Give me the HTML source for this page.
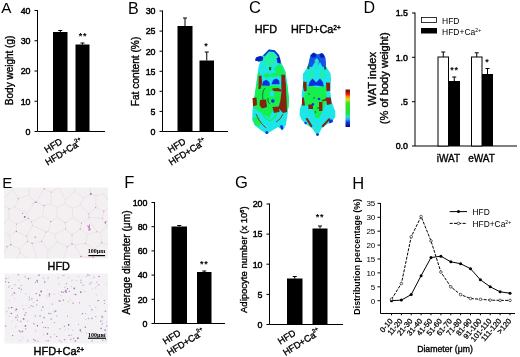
<!DOCTYPE html><html><head><meta charset="utf-8"><title>Figure</title><style>html,body{margin:0;padding:0;background:#fff}svg{display:block}text{font-family:"Liberation Sans",sans-serif;fill:#000}.t{font-size:8.9px;stroke:#000;stroke-width:.45px}.l{font-size:9.3px;stroke:#000;stroke-width:.35px}.p{font-size:15.5px}.ax{stroke:#000;stroke-width:1;fill:none}</style></head><body>
<svg width="520" height="357" viewBox="0 0 520 357">
<defs><filter id="b1" x="-10%" y="-10%" width="120%" height="120%"><feGaussianBlur stdDeviation="0.45"/></filter><filter id="b2" x="-10%" y="-10%" width="120%" height="120%"><feGaussianBlur stdDeviation="0.7"/></filter><linearGradient id="cb" x1="0" y1="0" x2="0" y2="1"><stop offset="0" stop-color="#6a1414"/><stop offset=".07" stop-color="#a01010"/><stop offset=".13" stop-color="#f02010"/><stop offset=".2" stop-color="#f0a010"/><stop offset=".27" stop-color="#d8e020"/><stop offset=".36" stop-color="#40e020"/><stop offset=".62" stop-color="#20e040"/><stop offset=".73" stop-color="#20e0c8"/><stop offset=".8" stop-color="#20a8e8"/><stop offset=".87" stop-color="#1038e0"/><stop offset="1" stop-color="#080888"/></linearGradient></defs>
<rect width="520" height="357" fill="#fff"/>
<g filter="url(#b1)">
<path class="ax" d="M37.5 10.0V131.5H105"/>
<path class="ax" d="M34.5 10.5H37.5"/>
<text class="t" x="30.5" y="13.8" text-anchor="end">40</text>
<path class="ax" d="M34.5 40.75H37.5"/>
<text class="t" x="30.5" y="44.05" text-anchor="end">30</text>
<path class="ax" d="M34.5 71H37.5"/>
<text class="t" x="30.5" y="74.3" text-anchor="end">20</text>
<path class="ax" d="M34.5 101.25H37.5"/>
<text class="t" x="30.5" y="104.55" text-anchor="end">10</text>
<path class="ax" d="M34.5 131.5H37.5"/>
<text class="t" x="30.5" y="134.8" text-anchor="end">0</text>
<path class="ax" d="M60.25 32V30.5M58.25 30.5H62.25" stroke-width=".8"/>
<rect x="53" y="32" width="14.5" height="99.5" fill="#000" stroke="#000" stroke-width="0"/>
<path class="ax" d="M82.5 44.5V43.0M80.5 43.0H84.5" stroke-width=".8"/>
<rect x="75.5" y="44.5" width="14.0" height="87.0" fill="#000" stroke="#000" stroke-width="0"/>
<text class="l" transform="translate(12.8 70.4) rotate(-90)" text-anchor="middle" style="font-size:10px">Body weight (g)</text>
<text class="l" transform="translate(63 143.2) rotate(-32)" text-anchor="end">HFD</text>
<text class="l" transform="translate(83.5 143.5) rotate(-32)" text-anchor="end">HFD+Ca<tspan dy="-4.5" dx="-.5" style="font-size:5.5px">2+</tspan></text>
<text class="p" x="1.2" y="13.3" style="font-size:15.3px">A</text>
<text x="83" y="38.5" text-anchor="middle" style="font-size:9px;font-weight:bold;letter-spacing:.8px">**</text>
<path class="ax" d="M162.5 10.5V131.5H228"/>
<path class="ax" d="M159.5 11H162.5"/>
<text class="t" x="155.5" y="14.3" text-anchor="end">30</text>
<path class="ax" d="M159.5 31.1H162.5"/>
<text class="t" x="155.5" y="34.4" text-anchor="end">25</text>
<path class="ax" d="M159.5 51.2H162.5"/>
<text class="t" x="155.5" y="54.5" text-anchor="end">20</text>
<path class="ax" d="M159.5 71.3H162.5"/>
<text class="t" x="155.5" y="74.6" text-anchor="end">15</text>
<path class="ax" d="M159.5 91.3H162.5"/>
<text class="t" x="155.5" y="94.6" text-anchor="end">10</text>
<path class="ax" d="M159.5 111.4H162.5"/>
<text class="t" x="155.5" y="114.7" text-anchor="end">5</text>
<path class="ax" d="M159.5 131.5H162.5"/>
<text class="t" x="155.5" y="134.8" text-anchor="end">0</text>
<path class="ax" d="M185.0 26V18M183.0 18H187.0" stroke-width=".8"/>
<rect x="177.5" y="26" width="15.0" height="105.5" fill="#000" stroke="#000" stroke-width="0"/>
<path class="ax" d="M206.75 60.5V52.0M204.75 52.0H208.75" stroke-width=".8"/>
<rect x="199.5" y="60.5" width="14.5" height="71.0" fill="#000" stroke="#000" stroke-width="0"/>
<text class="l" transform="translate(139 71.5) rotate(-90)" text-anchor="middle" style="font-size:10.2px">Fat content (%)</text>
<text class="l" transform="translate(186.5 143.2) rotate(-32)" text-anchor="end">HFD</text>
<text class="l" transform="translate(207 143.5) rotate(-32)" text-anchor="end">HFD+Ca<tspan dy="-4.5" dx="-.5" style="font-size:5.5px">2+</tspan></text>
<text class="p" x="128" y="13.5" style="font-size:16px">B</text>
<text x="206.5" y="49" text-anchor="middle" style="font-size:9px;font-weight:bold;letter-spacing:.8px">*</text>
<path class="ax" d="M154.5 202.0V323.5H225"/>
<path class="ax" d="M151.5 202.5H154.5"/>
<text class="t" x="147.5" y="205.8" text-anchor="end">100</text>
<path class="ax" d="M151.5 226.7H154.5"/>
<text class="t" x="147.5" y="230.0" text-anchor="end">80</text>
<path class="ax" d="M151.5 250.9H154.5"/>
<text class="t" x="147.5" y="254.20000000000002" text-anchor="end">60</text>
<path class="ax" d="M151.5 275.1H154.5"/>
<text class="t" x="147.5" y="278.40000000000003" text-anchor="end">40</text>
<path class="ax" d="M151.5 299.3H154.5"/>
<text class="t" x="147.5" y="302.6" text-anchor="end">20</text>
<path class="ax" d="M151.5 323.5H154.5"/>
<text class="t" x="147.5" y="326.8" text-anchor="end">0</text>
<path class="ax" d="M179.25 226.5V225.5M177.25 225.5H181.25" stroke-width=".8"/>
<rect x="171.5" y="226.5" width="15.5" height="97.0" fill="#000" stroke="#000" stroke-width="0"/>
<path class="ax" d="M204.25 272V271M202.25 271H206.25" stroke-width=".8"/>
<rect x="197" y="272" width="14.5" height="51.5" fill="#000" stroke="#000" stroke-width="0"/>
<text class="l" transform="translate(129.8 262.5) rotate(-90)" text-anchor="middle" style="font-size:10.2px">Average diameter (μm)</text>
<text class="l" transform="translate(181.5 334.7) rotate(-32)" text-anchor="end">HFD</text>
<text class="l" transform="translate(205.3 333.6) rotate(-32)" text-anchor="end">HFD+Ca<tspan dy="-4.5" dx="-.5" style="font-size:5.5px">2+</tspan></text>
<text class="p" x="124.3" y="188.3" style="font-size:16.5px">F</text>
<text x="204.3" y="266.6" text-anchor="middle" style="font-size:9px;font-weight:bold;letter-spacing:.8px">**</text>
<path class="ax" d="M269.5 203.5V324.5H343"/>
<path class="ax" d="M266.5 204H269.5"/>
<text class="t" x="262.5" y="207.3" text-anchor="end">20</text>
<path class="ax" d="M266.5 234.1H269.5"/>
<text class="t" x="262.5" y="237.4" text-anchor="end">15</text>
<path class="ax" d="M266.5 264.2H269.5"/>
<text class="t" x="262.5" y="267.5" text-anchor="end">10</text>
<path class="ax" d="M266.5 294.4H269.5"/>
<text class="t" x="262.5" y="297.7" text-anchor="end">5</text>
<path class="ax" d="M266.5 324.5H269.5"/>
<text class="t" x="262.5" y="327.8" text-anchor="end">0</text>
<path class="ax" d="M294.75 278.5V276.5M292.75 276.5H296.75" stroke-width=".8"/>
<rect x="287" y="278.5" width="15.5" height="46.0" fill="#000" stroke="#000" stroke-width="0"/>
<path class="ax" d="M320.0 228.5V226.0M318.0 226.0H322.0" stroke-width=".8"/>
<rect x="312.5" y="228.5" width="15.0" height="96.0" fill="#000" stroke="#000" stroke-width="0"/>
<text class="l" transform="translate(246.5 259.7) rotate(-90)" text-anchor="middle" style="font-size:9.5px">Adipocyte number (x 10<tspan dy="-3" style="font-size:5.5px">6</tspan><tspan dy="3">)</tspan></text>
<text class="l" transform="translate(296.5 334.7) rotate(-32)" text-anchor="end">HFD</text>
<text class="l" transform="translate(321.2 333.7) rotate(-32)" text-anchor="end">HFD+Ca<tspan dy="-4.5" dx="-.5" style="font-size:5.5px">2+</tspan></text>
<text class="p" x="235" y="188.3" style="font-size:16.5px">G</text>
<text x="320" y="219.5" text-anchor="middle" style="font-size:9px;font-weight:bold;letter-spacing:.8px">**</text>
<path class="ax" d="M415 12.5V146H517"/>
<path class="ax" d="M412 13H415"/>
<text class="t" x="408" y="16.3" text-anchor="end">1.5</text>
<path class="ax" d="M412 57.3H415"/>
<text class="t" x="408" y="60.599999999999994" text-anchor="end">1.0</text>
<path class="ax" d="M412 101.7H415"/>
<text class="t" x="408" y="105.0" text-anchor="end">.5</text>
<path class="ax" d="M412 146H415"/>
<text class="t" x="408" y="149.3" text-anchor="end">0.0</text>
<path class="ax" d="M443.25 57V52M441.25 52H445.25" stroke-width=".8"/>
<rect x="438" y="57" width="10.5" height="89" fill="#fff" stroke="#000" stroke-width="1"/>
<path class="ax" d="M454.25 81V77M452.25 77H456.25" stroke-width=".8"/>
<rect x="448.5" y="81" width="11.5" height="65" fill="#000" stroke="#000" stroke-width="0"/>
<path class="ax" d="M476.75 57V52.8M474.75 52.8H478.75" stroke-width=".8"/>
<rect x="471.5" y="57" width="10.5" height="89" fill="#fff" stroke="#000" stroke-width="1"/>
<path class="ax" d="M487.5 74V68.5M485.5 68.5H489.5" stroke-width=".8"/>
<rect x="482" y="74" width="11" height="72" fill="#000" stroke="#000" stroke-width="0"/>
<text class="p" x="363.5" y="13.3" style="font-size:16px">D</text>
<text x="454.6" y="73" text-anchor="middle" style="font-size:9px;font-weight:bold;letter-spacing:.8px">**</text>
<text x="487.5" y="64.5" text-anchor="middle" style="font-size:9px;font-weight:bold;letter-spacing:.8px">*</text>
<text class="l" transform="translate(375.5 78.8) rotate(-90)" text-anchor="middle" style="font-size:11.3px">WAT index</text>
<text class="l" transform="translate(387.7 78.3) rotate(-90)" text-anchor="middle" style="font-size:11.1px">(% of body weight)</text>
<text class="l" x="448.5" y="161.5" text-anchor="middle" style="font-size:10px">iWAT</text>
<text class="l" x="481.5" y="161.5" text-anchor="middle" style="font-size:10px">eWAT</text>
<rect x="421.5" y="17.5" width="15" height="5" fill="#fff" stroke="#000" stroke-width=".8"/>
<rect x="421" y="28" width="16" height="5.5" fill="#000"/>
<text x="442" y="24" style="font-size:8.5px">HFD</text>
<text x="442" y="34.5" style="font-size:8.5px">HFD+Ca<tspan dy="-2.5" style="font-size:5.2px">2+</tspan></text>
<text class="p" x="249" y="13.4" style="font-size:16.5px">C</text>
<text class="l" x="254.8" y="33" style="font-size:10.8px;stroke-width:.4px">HFD</text>
<text class="l" x="291" y="33" style="font-size:10.8px;stroke-width:.4px">HFD+Ca<tspan dy="-3.2" style="font-size:6.5px">2+</tspan></text>
<g filter="url(#b2)">
<!-- mouse 1 HFD -->
<path d="M268.8 49.5L274.7 50.2L279 55L280.5 61L283 66L285.6 72L287.5 85L289 100L288.5 105L287.5 115L285.8 125L282.5 130.5L278 127L272.4 130.5L266.8 133.8L261.2 130.5L254.5 125L252.2 120L252.5 110L254 100L256.2 85L257.9 72L258.7 66L260 62L255 60.5L256 57.5L260 56L263 55.5Z" fill="#1ce6e6"/>
<path d="M264.6 55L268.8 51.5L274 52.5L276.5 57L274 63L269 67L265 66.5L263.5 61Z" fill="#22f0a4"/>
<path d="M274 68.5L279 64L283 67L285.6 73L286 78L280 77L276 73Z" fill="#18ee5c"/>
<path d="M257.9 73L260 72L259.5 86L257 96L254 100L256.2 85Z" fill="#18ee5c"/>
<path d="M285.6 80L287.5 86L289 100L288.5 108L286 110L286.5 95Z" fill="#18ee5c"/>
<path d="M262 75L268 73L272 76L266 78ZM270 74L277 72.5L279 76L273 77Z" fill="#18ee5c"/>
<path d="M258.7 86L263 84.6L270 86L276 85L280.6 87L281 100L279 108L272 112L266 116L260 112L254 108L253 104L255 96L257.5 88Z" fill="#14f050"/>
<path d="M258.7 76L261.5 75.5L262 83L260.5 89L258.5 89Z" fill="#86200c"/>
<path d="M281.4 74.5L285 75L285.8 84L286.5 98L287 112L283 113L278.5 108L280.5 100L281.5 91L281.2 84Z" fill="#86200c"/>
<path d="M272 88.5L278 88L282 90L281 91.5L273.5 91Z" fill="#86200c"/>
<path d="M252.5 98L256.5 97.5L257 105L253 106.5Z" fill="#86200c"/>
<path d="M260 100L266 99.5L267 107L262 108.5L259.5 105Z" fill="#86200c"/>
<path d="M272.4 107L279 106.5L279.5 112L274 113Z" fill="#86200c"/>
<path d="M269.6 91.3L273.8 91.3L274 96.4L270 96.4Z" fill="#1ce6e6"/>
<path d="M261.8 85.6L263.2 81.3L266.5 79.8L269.4 82.2L269.9 85.8Z" fill="#0c2ee0"/>
<path d="M271.4 84.2L273.3 79.8L276.5 78.4L279.2 80.8L279.6 84.3Z" fill="#0c2ee0"/>
<path d="M263 55.5L268.8 49.5L274.7 50.2L279 55L280.5 61L279.2 61.5L277.5 56L274 52L269 51.5L264.5 56.5Z" fill="#1034d8"/>
<path d="M255 60.5L256 57.5L260 56L263.2 57L262.8 60.5L259 61.6Z" fill="#0a1cb4"/>
<path d="M276.6 58L280 57.6L280.8 63.5L277.5 63Z" fill="#0a1cb4"/>
<path d="M269 67L271.3 67L271 70.5L269 70Z" fill="#0a5a20"/>
<path d="M263 100Q261.5 92 265 88M268 98Q267 103 270 104" stroke="#0a5a20" stroke-width=".8" fill="none"/>
<circle cx="272.8" cy="101" r="1.8" fill="#0c2ee0"/>
<path d="M279.7 126L282 125L283.6 128L282 130.3Z" fill="#1034d8"/>
<circle cx="266.8" cy="132.6" r="1.5" fill="#1034d8"/>
<path d="M253 118L258 117L261 122L259 127L255 125Z" fill="#14f050"/>
<path d="M265 110L270 108L272 113L269 118L266 116Z" fill="#14f050"/>
<path d="M256 114L259 120L262 124L266 128M276 122L280 119L283 114" stroke="#86200c" stroke-width="1" fill="none" opacity=".8"/>
<path d="M262 112L265 118L270 121L275 117L278 112" stroke="#14f050" stroke-width="1.2" fill="none"/>
<!-- mouse 2 HFD+Ca -->
<path d="M313.5 52.6L317.5 54.5L322 53L325.2 57L325.8 62L326 66.5L330.6 73.5L331 80L330.2 91L331.4 100L333 105.6L335.3 111.2L335.3 116.8L332 121.8L327.5 124L321.9 128L319 133.6L317.4 136.6L315.7 133.6L311.8 128L306.2 124.6L301.7 120L299.5 114.6L300 109L302.8 100L301.6 96L303 84L302.9 74L307.9 66.5L309.4 60L310.5 55Z" fill="#1ce6e6"/>
<path d="M313.5 52.6L317.5 54.5L322 53L325.2 57L325.8 62L326 66.5L322.5 67L320 62L317.5 66L315 62L312 67L307.9 66.5L309.4 60L310.5 55Z" fill="#1452e8"/>
<path d="M311 55L313.5 53L316.3 54.5L315.5 57.2L312 57.5ZM319.7 54.5L322 53.3L324.3 55L324 57.7L320.5 57.5Z" fill="#0a1cb4"/>
<path d="M314.5 60L317 58L319 61L318 67L316 69Z" fill="#22e0d0"/>
<path d="M307.5 66L309.2 65.5L309.5 69L307.5 69ZM324 66.5L326 66.5L326.2 69.5L324.2 69.5Z" fill="#0a5a20"/>
<path d="M309 72L313 70L314 78L310 79ZM319 70L324 71L325 78L321 78.5Z" fill="#22f0a4"/>
<path d="M306.7 87L312 86L318 87.5L324 86L326 87L326.5 98L325 105L322 112L319 118L316 118L313 110L308 106L304 104L304.5 96L306 90Z" fill="#14f050"/>
<path d="M308.3 86.3L309.5 82L312.5 78.4L316.3 82.4L320 78.4L322.8 82L323.9 86.6L316 85.6Z" fill="#0c2ee0"/>
<path d="M303.3 81.6L306.5 82L306.7 90.8L304 91.5L303 86Z" fill="#86200c"/>
<path d="M326 82.4L330 82.8L330.2 90.8L326.5 91.2Z" fill="#86200c"/>
<path d="M302 97.5L303.8 97.5L305 105.6L302 105.6Z" fill="#86200c"/>
<path d="M325.6 97.5L330.8 97.5L331.5 104L327 105Z" fill="#86200c"/>
<path d="M308.4 104.5L313 104.5L313 109L308.4 109Z" fill="#86200c"/>
<path d="M319 102L322.4 102L322.4 111L319 111Z" fill="#86200c"/>
<path d="M322 100L327 98.5L327.5 100L322.5 101.5Z" fill="#86200c"/>
<path d="M305.5 118.5L307.5 118L312.5 126L311 127.5ZM329 118L330.5 119L323 127.5L321.5 126Z" fill="#86200c"/>
<circle cx="319" cy="99" r="1.3" fill="#0c2ee0"/>
<circle cx="312.9" cy="104.2" r="1.2" fill="#0c2ee0"/>
<path d="M328.6 119.8L332.5 119.6L333 122L329.5 123.5Z" fill="#1034d8"/>
<circle cx="305.6" cy="123" r="1.2" fill="#1034d8"/>
<circle cx="317.5" cy="134.6" r="1.4" fill="#1034d8"/>
<circle cx="315.5" cy="112" r=".8" fill="#0a5a20"/><circle cx="318" cy="108" r=".8" fill="#0a5a20"/><circle cx="309" cy="94" r=".8" fill="#0a5a20"/><circle cx="314" cy="98" r=".8" fill="#0a5a20"/>
</g>

<rect x="345.5" y="89.5" width="4.5" height="37.5" fill="url(#cb)"/>
<text class="l" x="58.7" y="270.3" text-anchor="middle" style="font-size:10.8px;stroke-width:.4px">HFD</text>
<text class="l" x="33.5" y="354.8" style="font-size:11px;stroke-width:.4px">HFD+Ca<tspan dy="-3.2" style="font-size:6.5px">2+</tspan></text>
<clipPath id="mc1"><rect x="4" y="187.5" width="104" height="71.0"/></clipPath>
<g filter="url(#b2)"><rect x="4" y="187.5" width="104" height="71.0" fill="#f3f0f2"/><g clip-path="url(#mc1)">
<path d="M91.2 194.3L95.9 195.7M91.2 194.3L87.7 180.1M95.9 195.7L102.5 193.9M104.7 195.3L102.5 193.9M109.0 225.7L117.0 220.6M109.0 225.7L116.7 236.4M46.1 232.1L41.6 241.4M46.1 232.1L48.5 231.2M48.5 231.2L54.1 234.1M54.1 234.1L57.0 242.2M57.0 242.2L47.9 250.3M41.6 241.4L47.9 250.3M32.5 225.4L46.1 232.1M32.5 225.4L26.7 236.2M41.6 241.4L32.1 243.2M32.1 243.2L27.6 241.4M26.7 236.2L27.6 241.4M32.5 225.4L31.6 221.7M28.3 218.4L31.6 221.7M28.3 218.4L16.5 224.1M16.5 224.1L16.3 231.4M26.7 236.2L16.3 231.4M48.5 231.2L50.8 221.6M31.6 221.7L42.7 216.1M42.7 216.1L50.8 221.6M54.1 234.1L65.6 229.1M65.2 222.7L65.6 229.1M65.2 222.7L56.8 217.3M56.8 217.3L50.8 221.6M111.4 206.0L104.7 195.3M111.4 206.0L113.0 206.6M110.6 245.9L112.6 257.0M110.6 245.9L115.5 243.2M102.4 262.3L112.6 257.0M57.0 242.2L67.5 246.8M47.9 250.3L47.6 258.2M57.6 260.4L47.6 258.2M57.6 260.4L63.6 258.4M67.5 246.8L63.6 258.4M65.2 222.7L72.4 217.5M65.6 229.1L72.0 235.0M72.4 217.5L81.6 223.1M81.6 223.1L80.2 229.1M72.0 235.0L80.2 229.1M67.5 246.8L72.0 243.9M72.0 235.0L72.0 243.9M2.7 256.8L13.0 263.2M2.7 256.8L6.9 246.8M13.0 263.2L20.0 252.7M6.9 246.8L10.8 244.7M10.8 244.7L19.6 248.9M20.0 252.7L19.6 248.9M1.6 230.6L9.5 235.4M9.5 235.4L10.8 244.7M27.6 241.4L19.6 248.9M16.3 231.4L9.5 235.4M13.0 263.2L13.2 264.5M56.8 217.3L57.2 207.2M72.5 208.3L72.4 217.5M72.5 208.3L64.5 204.0M64.5 204.0L57.2 207.2M88.7 214.0L88.9 217.3M88.7 214.0L95.7 207.6M88.9 217.3L102.4 218.4M95.7 207.6L103.8 211.0M103.8 211.0L102.4 218.4M72.5 208.3L80.5 205.2M80.5 205.2L88.7 214.0M81.6 223.1L88.2 218.9M88.2 218.9L88.9 217.3M91.2 194.3L83.1 197.8M83.1 197.8L80.5 205.2M95.9 195.7L95.7 207.6M111.4 206.0L103.8 211.0M109.0 225.7L107.2 226.0M107.2 226.0L102.4 218.4M31.5 260.8L37.9 260.9M37.9 260.9L41.1 262.4M20.0 252.7L31.5 260.8M32.1 243.2L37.9 260.9M47.6 258.2L41.1 262.4M93.0 257.3L80.9 256.5M63.6 258.4L72.9 265.7M72.0 243.9L74.6 244.9M74.6 244.9L80.9 256.5M102.4 262.3L93.1 257.2M93.1 257.2L93.0 257.3M87.1 234.5L85.5 243.4M87.1 234.5L97.0 231.7M101.8 242.7L94.4 249.2M101.8 242.7L100.3 232.9M94.4 249.2L85.5 243.4M100.3 232.9L97.0 231.7M74.6 244.9L85.5 243.4M80.2 229.1L87.1 234.5M88.2 218.9L97.0 231.7M93.1 257.2L94.4 249.2M110.6 245.9L101.8 242.7M107.2 226.0L100.3 232.9M57.6 260.4L58.0 273.0M12.8 184.5L12.7 189.5M12.7 189.5L1.7 200.0M1.7 200.0L-4.5 193.9M42.7 216.1L44.0 205.6M57.2 207.2L51.2 204.1M44.0 205.6L51.2 204.1M83.1 197.8L75.2 191.2M64.5 204.0L65.2 199.8M75.2 191.2L65.2 199.8M3.7 206.2L-2.3 209.3M3.7 206.2L9.0 209.1M9.0 209.1L8.5 218.6M8.5 218.6L4.5 222.8M1.7 200.0L3.7 206.2M14.8 207.2L18.3 198.7M14.8 207.2L9.0 209.1M12.7 189.5L18.3 198.7M28.3 218.4L27.0 213.3M16.5 224.1L8.5 218.6M27.0 213.3L14.8 207.2M1.6 230.6L4.5 222.8M27.0 213.3L35.1 202.2M18.3 198.7L28.8 195.0M35.1 202.2L28.8 195.0M44.0 205.6L36.3 202.2M35.1 202.2L36.3 202.2M28.8 195.0L29.1 187.3M51.2 204.1L51.2 192.1M36.3 202.2L44.2 188.8M51.2 192.1L44.2 188.8M65.2 199.8L59.2 187.4M51.2 192.1L59.2 187.4M75.2 191.2L74.2 186.5M74.2 186.5L81.6 177.5M29.1 187.3L35.8 183.1M44.2 188.8L42.8 186.2M35.8 183.1L42.8 186.2M35.8 183.1L36.2 169.6M60.0 185.6L49.6 178.4M60.0 185.6L62.9 183.3M62.9 183.3L63.8 171.1M59.2 187.4L60.0 185.6M42.8 186.2L49.6 178.4M74.2 186.5L62.9 183.3" stroke="#e4b0d4" stroke-width=".55" fill="none" opacity=".42"/>
<circle cx="6.9" cy="246.8" r="0.71" fill="#9248a8" opacity="0.51"/>
<circle cx="9.0" cy="209.1" r="0.51" fill="#9248a8" opacity="0.54"/>
<circle cx="10.8" cy="244.7" r="0.69" fill="#9248a8" opacity="0.71"/>
<circle cx="16.3" cy="231.4" r="0.64" fill="#9248a8" opacity="0.69"/>
<circle cx="16.5" cy="224.1" r="0.53" fill="#9248a8" opacity="0.42"/>
<circle cx="18.3" cy="198.7" r="0.58" fill="#9248a8" opacity="0.51"/>
<circle cx="20.0" cy="252.7" r="0.47" fill="#9248a8" opacity="0.36"/>
<circle cx="26.7" cy="236.2" r="0.47" fill="#9248a8" opacity="0.74"/>
<circle cx="27.6" cy="241.4" r="0.60" fill="#9248a8" opacity="0.44"/>
<circle cx="28.3" cy="218.4" r="0.56" fill="#9248a8" opacity="0.59"/>
<circle cx="31.6" cy="221.7" r="0.51" fill="#9248a8" opacity="0.45"/>
<circle cx="32.1" cy="243.2" r="0.62" fill="#9248a8" opacity="0.62"/>
<circle cx="32.5" cy="225.4" r="0.47" fill="#9248a8" opacity="0.38"/>
<circle cx="35.1" cy="202.2" r="0.63" fill="#9248a8" opacity="0.65"/>
<circle cx="36.3" cy="202.2" r="0.69" fill="#9248a8" opacity="0.58"/>
<circle cx="41.6" cy="241.4" r="0.56" fill="#9248a8" opacity="0.52"/>
<circle cx="44.0" cy="205.6" r="0.66" fill="#9248a8" opacity="0.51"/>
<circle cx="44.2" cy="188.8" r="0.61" fill="#9248a8" opacity="0.61"/>
<circle cx="46.1" cy="232.1" r="0.58" fill="#9248a8" opacity="0.49"/>
<circle cx="50.8" cy="221.6" r="0.72" fill="#9248a8" opacity="0.66"/>
<circle cx="51.2" cy="192.1" r="0.59" fill="#9248a8" opacity="0.36"/>
<circle cx="65.2" cy="222.7" r="0.63" fill="#9248a8" opacity="0.30"/>
<circle cx="65.6" cy="229.1" r="0.68" fill="#9248a8" opacity="0.32"/>
<circle cx="67.5" cy="246.8" r="0.48" fill="#9248a8" opacity="0.70"/>
<circle cx="72.0" cy="235.0" r="0.46" fill="#9248a8" opacity="0.68"/>
<circle cx="72.0" cy="243.9" r="0.70" fill="#9248a8" opacity="0.60"/>
<circle cx="80.2" cy="229.1" r="0.68" fill="#9248a8" opacity="0.53"/>
<circle cx="80.9" cy="256.5" r="0.67" fill="#9248a8" opacity="0.72"/>
<circle cx="81.6" cy="223.1" r="0.55" fill="#9248a8" opacity="0.55"/>
<circle cx="85.5" cy="243.4" r="0.50" fill="#9248a8" opacity="0.41"/>
<circle cx="88.7" cy="214.0" r="0.56" fill="#9248a8" opacity="0.48"/>
<circle cx="88.9" cy="217.3" r="0.58" fill="#9248a8" opacity="0.34"/>
<circle cx="91.2" cy="194.3" r="0.74" fill="#9248a8" opacity="0.49"/>
<circle cx="93.1" cy="257.2" r="0.66" fill="#9248a8" opacity="0.64"/>
<circle cx="95.7" cy="207.6" r="0.60" fill="#9248a8" opacity="0.59"/>
<circle cx="97.0" cy="231.7" r="0.48" fill="#9248a8" opacity="0.64"/>
<circle cx="101.8" cy="242.7" r="0.58" fill="#9248a8" opacity="0.62"/>
<circle cx="102.4" cy="218.4" r="0.53" fill="#9248a8" opacity="0.39"/>
<circle cx="103.8" cy="211.0" r="0.52" fill="#9248a8" opacity="0.61"/>
<circle cx="24.7" cy="216.9" r="0.90" fill="#9248a8" opacity="0.90"/>
<circle cx="90.6" cy="193.8" r="0.80" fill="#9248a8" opacity="0.90"/>
<circle cx="105.3" cy="222.7" r="0.80" fill="#9248a8" opacity="0.90"/>
<circle cx="35.2" cy="237.2" r="0.61" fill="#9248a8" opacity="0.76"/>
<circle cx="32.3" cy="203.5" r="0.41" fill="#9248a8" opacity="0.54"/>
<circle cx="22.6" cy="213.4" r="0.56" fill="#9248a8" opacity="0.71"/>
<circle cx="106.1" cy="221.6" r="0.70" fill="#6a3c9c" opacity="0.53"/>
</g></g>
<path d="M87.5 225.5L90.5 230M89.5 224.5L89 231" stroke="#c040b0" stroke-width="1.1" opacity=".7" filter="url(#b2)"/>
<clipPath id="mc2"><rect x="4.5" y="273.5" width="103.5" height="70.0"/></clipPath>
<g filter="url(#b2)"><rect x="4.5" y="273.5" width="103.5" height="70.0" fill="#f3f1f3"/><g clip-path="url(#mc2)">
<circle cx="68.7" cy="324.9" r="0.80" fill="#6a3c9c" opacity="0.82"/>
<circle cx="99.1" cy="276.5" r="0.63" fill="#9044a8" opacity="0.82"/>
<circle cx="96.9" cy="282.2" r="0.63" fill="#9044a8" opacity="0.40"/>
<circle cx="63.8" cy="275.4" r="0.51" fill="#6a3c9c" opacity="0.42"/>
<circle cx="83.2" cy="285.4" r="0.80" fill="#9044a8" opacity="0.33"/>
<circle cx="18.4" cy="274.6" r="0.84" fill="#9044a8" opacity="0.38"/>
<circle cx="105.2" cy="333.8" r="0.54" fill="#9044a8" opacity="0.83"/>
<circle cx="74.3" cy="288.4" r="0.87" fill="#6a3c9c" opacity="0.66"/>
<circle cx="96.2" cy="294.8" r="0.58" fill="#9044a8" opacity="0.35"/>
<circle cx="12.1" cy="295.0" r="0.70" fill="#6a3c9c" opacity="0.25"/>
<circle cx="39.8" cy="295.6" r="0.81" fill="#9044a8" opacity="0.54"/>
<circle cx="54.3" cy="322.4" r="0.43" fill="#9044a8" opacity="0.84"/>
<circle cx="81.6" cy="332.0" r="0.41" fill="#9044a8" opacity="0.72"/>
<circle cx="64.2" cy="275.1" r="0.42" fill="#6a3c9c" opacity="0.36"/>
<circle cx="25.4" cy="325.9" r="0.86" fill="#9044a8" opacity="0.82"/>
<circle cx="41.5" cy="310.2" r="0.79" fill="#6a3c9c" opacity="0.31"/>
<circle cx="86.4" cy="333.0" r="0.42" fill="#9044a8" opacity="0.82"/>
<circle cx="40.1" cy="316.0" r="0.86" fill="#6a3c9c" opacity="0.45"/>
<circle cx="60.8" cy="295.7" r="0.56" fill="#9044a8" opacity="0.36"/>
<circle cx="20.6" cy="321.4" r="0.90" fill="#9044a8" opacity="0.35"/>
<circle cx="105.6" cy="310.8" r="0.60" fill="#9044a8" opacity="0.39"/>
<circle cx="89.4" cy="305.5" r="0.61" fill="#6a3c9c" opacity="0.28"/>
<circle cx="8.8" cy="308.1" r="0.82" fill="#6a3c9c" opacity="0.33"/>
<circle cx="101.9" cy="317.4" r="0.79" fill="#9044a8" opacity="0.31"/>
<circle cx="20.6" cy="331.9" r="0.55" fill="#6a3c9c" opacity="0.52"/>
<circle cx="92.0" cy="340.9" r="0.63" fill="#6a3c9c" opacity="0.54"/>
<circle cx="54.1" cy="294.3" r="0.60" fill="#9044a8" opacity="0.34"/>
<circle cx="105.8" cy="339.8" r="0.71" fill="#9044a8" opacity="0.55"/>
<circle cx="14.5" cy="293.0" r="0.79" fill="#9044a8" opacity="0.77"/>
<circle cx="85.3" cy="327.2" r="0.75" fill="#6a3c9c" opacity="0.65"/>
<circle cx="42.4" cy="322.4" r="0.54" fill="#6a3c9c" opacity="0.54"/>
<circle cx="75.6" cy="294.5" r="0.87" fill="#9044a8" opacity="0.64"/>
<circle cx="6.7" cy="311.7" r="0.53" fill="#9044a8" opacity="0.65"/>
<circle cx="88.4" cy="318.5" r="0.80" fill="#9044a8" opacity="0.46"/>
<circle cx="80.4" cy="330.8" r="0.58" fill="#6a3c9c" opacity="0.76"/>
<circle cx="75.4" cy="340.9" r="0.88" fill="#9044a8" opacity="0.56"/>
<circle cx="22.4" cy="331.4" r="0.87" fill="#6a3c9c" opacity="0.54"/>
<circle cx="78.5" cy="324.2" r="0.49" fill="#9044a8" opacity="0.72"/>
<circle cx="73.1" cy="303.1" r="0.71" fill="#9044a8" opacity="0.71"/>
<circle cx="78.6" cy="276.4" r="0.48" fill="#6a3c9c" opacity="0.51"/>
<circle cx="27.7" cy="321.1" r="0.72" fill="#9044a8" opacity="0.28"/>
<circle cx="28.5" cy="278.2" r="0.47" fill="#9044a8" opacity="0.44"/>
<circle cx="25.1" cy="276.9" r="0.63" fill="#9044a8" opacity="0.48"/>
<circle cx="65.4" cy="290.7" r="0.85" fill="#9044a8" opacity="0.25"/>
<circle cx="33.8" cy="302.4" r="0.46" fill="#9044a8" opacity="0.75"/>
<circle cx="9.2" cy="316.2" r="0.45" fill="#9044a8" opacity="0.58"/>
<circle cx="64.5" cy="339.7" r="0.81" fill="#6a3c9c" opacity="0.50"/>
<circle cx="70.7" cy="299.6" r="0.47" fill="#9044a8" opacity="0.61"/>
<circle cx="102.7" cy="340.3" r="0.70" fill="#6a3c9c" opacity="0.46"/>
<circle cx="5.6" cy="281.8" r="0.68" fill="#9044a8" opacity="0.62"/>
<circle cx="69.4" cy="335.1" r="0.59" fill="#9044a8" opacity="0.51"/>
<circle cx="35.1" cy="340.6" r="0.59" fill="#6a3c9c" opacity="0.83"/>
<circle cx="66.0" cy="292.2" r="0.89" fill="#9044a8" opacity="0.55"/>
<circle cx="37.9" cy="341.4" r="0.65" fill="#9044a8" opacity="0.42"/>
<circle cx="17.9" cy="316.8" r="0.62" fill="#6a3c9c" opacity="0.43"/>
<circle cx="89.4" cy="275.4" r="0.67" fill="#6a3c9c" opacity="0.41"/>
<circle cx="84.9" cy="291.2" r="0.53" fill="#6a3c9c" opacity="0.34"/>
<circle cx="35.3" cy="315.8" r="0.64" fill="#9044a8" opacity="0.64"/>
<circle cx="81.0" cy="282.5" r="0.78" fill="#9044a8" opacity="0.43"/>
<circle cx="39.6" cy="294.7" r="0.66" fill="#9044a8" opacity="0.53"/>
<circle cx="81.1" cy="314.7" r="0.42" fill="#9044a8" opacity="0.40"/>
<circle cx="98.5" cy="334.9" r="0.67" fill="#6a3c9c" opacity="0.26"/>
<circle cx="48.9" cy="313.6" r="0.75" fill="#9044a8" opacity="0.63"/>
<circle cx="98.0" cy="300.7" r="0.60" fill="#9044a8" opacity="0.76"/>
<circle cx="35.6" cy="330.9" r="0.43" fill="#6a3c9c" opacity="0.75"/>
<circle cx="49.4" cy="294.0" r="0.79" fill="#9044a8" opacity="0.80"/>
<circle cx="54.1" cy="311.8" r="0.65" fill="#9044a8" opacity="0.45"/>
<circle cx="65.0" cy="329.7" r="0.43" fill="#6a3c9c" opacity="0.39"/>
<circle cx="85.9" cy="319.6" r="0.41" fill="#6a3c9c" opacity="0.68"/>
<circle cx="106.8" cy="322.2" r="0.42" fill="#9044a8" opacity="0.76"/>
<circle cx="71.0" cy="339.3" r="0.76" fill="#9044a8" opacity="0.33"/>
<circle cx="98.7" cy="284.7" r="0.71" fill="#9044a8" opacity="0.50"/>
<circle cx="68.7" cy="277.5" r="0.45" fill="#9044a8" opacity="0.48"/>
<circle cx="11.3" cy="313.6" r="0.77" fill="#9044a8" opacity="0.78"/>
<circle cx="49.3" cy="295.9" r="0.70" fill="#6a3c9c" opacity="0.54"/>
<circle cx="43.5" cy="278.3" r="0.75" fill="#9044a8" opacity="0.34"/>
<circle cx="56.8" cy="336.4" r="0.68" fill="#9044a8" opacity="0.62"/>
<circle cx="61.5" cy="291.8" r="0.78" fill="#9044a8" opacity="0.56"/>
<circle cx="29.3" cy="299.7" r="0.77" fill="#6a3c9c" opacity="0.36"/>
<circle cx="72.0" cy="280.3" r="0.73" fill="#9044a8" opacity="0.30"/>
<circle cx="65.8" cy="290.7" r="0.84" fill="#9044a8" opacity="0.54"/>
<circle cx="86.3" cy="276.5" r="0.76" fill="#9044a8" opacity="0.28"/>
<circle cx="102.1" cy="320.8" r="0.51" fill="#6a3c9c" opacity="0.32"/>
<circle cx="73.0" cy="330.3" r="0.47" fill="#9044a8" opacity="0.62"/>
<circle cx="29.4" cy="297.2" r="0.71" fill="#9044a8" opacity="0.46"/>
<circle cx="19.3" cy="331.0" r="0.72" fill="#9044a8" opacity="0.73"/>
<circle cx="91.9" cy="309.7" r="0.70" fill="#6a3c9c" opacity="0.59"/>
<circle cx="45.6" cy="281.1" r="0.42" fill="#9044a8" opacity="0.37"/>
<circle cx="95.8" cy="307.2" r="0.78" fill="#9044a8" opacity="0.25"/>
<circle cx="95.8" cy="316.6" r="0.61" fill="#9044a8" opacity="0.53"/>
<circle cx="21.2" cy="285.3" r="0.59" fill="#6a3c9c" opacity="0.48"/>
<circle cx="20.9" cy="291.8" r="0.54" fill="#9044a8" opacity="0.35"/>
<circle cx="29.4" cy="307.3" r="0.42" fill="#9044a8" opacity="0.80"/>
<circle cx="100.7" cy="321.3" r="0.74" fill="#6a3c9c" opacity="0.53"/>
<circle cx="17.5" cy="320.0" r="0.55" fill="#6a3c9c" opacity="0.65"/>
<circle cx="22.1" cy="288.2" r="0.41" fill="#9044a8" opacity="0.39"/>
<circle cx="46.2" cy="340.7" r="0.58" fill="#9044a8" opacity="0.44"/>
<circle cx="34.2" cy="324.3" r="0.76" fill="#9044a8" opacity="0.35"/>
<circle cx="73.7" cy="338.5" r="0.72" fill="#6a3c9c" opacity="0.51"/>
<circle cx="6.1" cy="278.6" r="0.79" fill="#9044a8" opacity="0.50"/>
<circle cx="61.2" cy="341.8" r="0.66" fill="#9044a8" opacity="0.46"/>
<circle cx="12.7" cy="335.6" r="0.65" fill="#9044a8" opacity="0.81"/>
<circle cx="30.2" cy="277.9" r="0.60" fill="#9044a8" opacity="0.29"/>
<circle cx="46.9" cy="295.3" r="0.43" fill="#6a3c9c" opacity="0.27"/>
<circle cx="23.7" cy="309.1" r="0.60" fill="#9044a8" opacity="0.57"/>
<circle cx="37.4" cy="281.8" r="0.67" fill="#9044a8" opacity="0.80"/>
<circle cx="92.5" cy="289.1" r="0.41" fill="#9044a8" opacity="0.57"/>
<circle cx="63.5" cy="300.1" r="0.71" fill="#6a3c9c" opacity="0.69"/>
<circle cx="36.7" cy="305.0" r="0.81" fill="#9044a8" opacity="0.38"/>
<circle cx="37.1" cy="280.5" r="0.79" fill="#9044a8" opacity="0.74"/>
<circle cx="18.7" cy="280.1" r="0.52" fill="#9044a8" opacity="0.30"/>
<circle cx="64.1" cy="291.2" r="0.43" fill="#9044a8" opacity="0.67"/>
<circle cx="25.8" cy="293.9" r="0.59" fill="#9044a8" opacity="0.31"/>
<circle cx="37.4" cy="325.7" r="0.68" fill="#6a3c9c" opacity="0.79"/>
<circle cx="82.6" cy="313.6" r="0.62" fill="#6a3c9c" opacity="0.74"/>
<circle cx="102.4" cy="324.0" r="0.75" fill="#6a3c9c" opacity="0.41"/>
<circle cx="44.3" cy="283.4" r="0.43" fill="#9044a8" opacity="0.35"/>
<circle cx="74.1" cy="293.9" r="0.43" fill="#9044a8" opacity="0.71"/>
<circle cx="8.3" cy="277.9" r="0.47" fill="#6a3c9c" opacity="0.46"/>
<circle cx="101.8" cy="316.1" r="0.52" fill="#9044a8" opacity="0.51"/>
<circle cx="39.0" cy="275.3" r="0.69" fill="#6a3c9c" opacity="0.75"/>
<circle cx="15.2" cy="310.6" r="0.49" fill="#9044a8" opacity="0.68"/>
<circle cx="100.8" cy="328.5" r="0.46" fill="#6a3c9c" opacity="0.44"/>
<circle cx="52.3" cy="304.0" r="0.62" fill="#6a3c9c" opacity="0.71"/>
<circle cx="59.6" cy="340.4" r="0.70" fill="#6a3c9c" opacity="0.31"/>
<circle cx="48.1" cy="278.1" r="0.89" fill="#9044a8" opacity="0.27"/>
<circle cx="54.4" cy="334.5" r="0.60" fill="#9044a8" opacity="0.38"/>
<circle cx="25.9" cy="312.7" r="0.58" fill="#9044a8" opacity="0.70"/>
<circle cx="41.2" cy="291.4" r="0.89" fill="#6a3c9c" opacity="0.75"/>
<circle cx="68.2" cy="301.8" r="0.47" fill="#9044a8" opacity="0.75"/>
<circle cx="9.3" cy="286.0" r="0.45" fill="#6a3c9c" opacity="0.68"/>
<circle cx="25.7" cy="328.7" r="0.56" fill="#6a3c9c" opacity="0.66"/>
<circle cx="68.7" cy="328.9" r="0.59" fill="#9044a8" opacity="0.26"/>
<circle cx="65.0" cy="287.1" r="0.59" fill="#9044a8" opacity="0.44"/>
<circle cx="37.2" cy="300.5" r="0.64" fill="#9044a8" opacity="0.67"/>
<circle cx="105.2" cy="330.0" r="0.86" fill="#6a3c9c" opacity="0.67"/>
<circle cx="60.0" cy="328.8" r="0.58" fill="#6a3c9c" opacity="0.61"/>
<circle cx="58.5" cy="293.8" r="0.44" fill="#9044a8" opacity="0.30"/>
<circle cx="64.4" cy="326.2" r="0.76" fill="#6a3c9c" opacity="0.43"/>
<circle cx="33.4" cy="323.2" r="0.44" fill="#6a3c9c" opacity="0.70"/>
<circle cx="102.6" cy="335.5" r="0.74" fill="#6a3c9c" opacity="0.75"/>
<circle cx="67.5" cy="288.7" r="0.66" fill="#9044a8" opacity="0.79"/>
<circle cx="104.4" cy="311.5" r="0.60" fill="#9044a8" opacity="0.25"/>
<circle cx="23.6" cy="318.9" r="0.85" fill="#9044a8" opacity="0.80"/>
<circle cx="44.7" cy="281.9" r="0.74" fill="#6a3c9c" opacity="0.58"/>
<circle cx="43.5" cy="334.8" r="0.51" fill="#9044a8" opacity="0.43"/>
<circle cx="68.7" cy="335.5" r="0.48" fill="#6a3c9c" opacity="0.63"/>
<circle cx="28.3" cy="278.8" r="0.68" fill="#6a3c9c" opacity="0.75"/>
<circle cx="79.4" cy="302.8" r="0.61" fill="#6a3c9c" opacity="0.57"/>
<circle cx="36.2" cy="293.6" r="0.70" fill="#9044a8" opacity="0.83"/>
<circle cx="8.6" cy="282.4" r="0.68" fill="#9044a8" opacity="0.61"/>
<circle cx="24.8" cy="314.9" r="0.72" fill="#6a3c9c" opacity="0.66"/>
<circle cx="11.7" cy="307.5" r="0.82" fill="#9044a8" opacity="0.82"/>
<circle cx="91.8" cy="318.4" r="0.86" fill="#6a3c9c" opacity="0.39"/>
<circle cx="90.8" cy="306.9" r="0.45" fill="#9044a8" opacity="0.37"/>
<circle cx="14.9" cy="284.8" r="0.71" fill="#6a3c9c" opacity="0.31"/>
<circle cx="80.2" cy="330.0" r="0.80" fill="#6a3c9c" opacity="0.68"/>
<circle cx="102.6" cy="317.0" r="0.88" fill="#9044a8" opacity="0.31"/>
<circle cx="12.0" cy="288.5" r="0.59" fill="#6a3c9c" opacity="0.53"/>
<circle cx="80.9" cy="280.2" r="0.60" fill="#9044a8" opacity="0.58"/>
<circle cx="17.4" cy="315.1" r="0.59" fill="#9044a8" opacity="0.66"/>
<circle cx="103.2" cy="338.8" r="0.44" fill="#6a3c9c" opacity="0.71"/>
<circle cx="35.5" cy="282.4" r="0.64" fill="#6a3c9c" opacity="0.46"/>
<circle cx="98.7" cy="300.5" r="0.55" fill="#6a3c9c" opacity="0.55"/>
<circle cx="85.6" cy="313.6" r="0.55" fill="#6a3c9c" opacity="0.45"/>
<circle cx="58.2" cy="277.9" r="0.61" fill="#6a3c9c" opacity="0.39"/>
<circle cx="12.9" cy="292.9" r="0.45" fill="#6a3c9c" opacity="0.54"/>
<circle cx="60.4" cy="300.8" r="0.87" fill="#9044a8" opacity="0.31"/>
<circle cx="87.8" cy="274.8" r="0.78" fill="#9044a8" opacity="0.47"/>
<circle cx="31.0" cy="305.7" r="0.59" fill="#9044a8" opacity="0.56"/>
<circle cx="27.7" cy="340.8" r="0.62" fill="#9044a8" opacity="0.53"/>
<circle cx="33.8" cy="339.4" r="0.74" fill="#9044a8" opacity="0.55"/>
<circle cx="45.4" cy="327.4" r="0.62" fill="#6a3c9c" opacity="0.61"/>
<circle cx="71.0" cy="317.7" r="0.42" fill="#6a3c9c" opacity="0.26"/>
<circle cx="47.4" cy="333.9" r="0.81" fill="#9044a8" opacity="0.80"/>
<circle cx="106.9" cy="325.9" r="0.85" fill="#6a3c9c" opacity="0.34"/>
<circle cx="48.3" cy="340.6" r="0.90" fill="#9044a8" opacity="0.38"/>
<circle cx="33.0" cy="306.4" r="0.54" fill="#9044a8" opacity="0.65"/>
<circle cx="22.7" cy="305.6" r="0.44" fill="#6a3c9c" opacity="0.48"/>
<circle cx="95.4" cy="287.9" r="0.41" fill="#6a3c9c" opacity="0.75"/>
<circle cx="66.3" cy="283.8" r="0.52" fill="#6a3c9c" opacity="0.80"/>
<circle cx="8.7" cy="287.1" r="0.61" fill="#6a3c9c" opacity="0.41"/>
<circle cx="43.4" cy="327.2" r="0.48" fill="#6a3c9c" opacity="0.56"/>
<circle cx="76.8" cy="280.6" r="0.46" fill="#9044a8" opacity="0.64"/>
<circle cx="42.9" cy="307.0" r="0.69" fill="#9044a8" opacity="0.83"/>
<circle cx="63.2" cy="292.4" r="0.67" fill="#9044a8" opacity="0.69"/>
<circle cx="54.3" cy="322.5" r="0.40" fill="#9044a8" opacity="0.71"/>
<circle cx="56.7" cy="316.0" r="0.80" fill="#9044a8" opacity="0.28"/>
<circle cx="9.4" cy="300.7" r="0.57" fill="#9044a8" opacity="0.26"/>
<circle cx="51.2" cy="319.0" r="0.86" fill="#9044a8" opacity="0.47"/>
<circle cx="77.9" cy="338.2" r="0.87" fill="#9044a8" opacity="0.84"/>
<circle cx="22.4" cy="337.9" r="0.44" fill="#6a3c9c" opacity="0.52"/>
<circle cx="59.2" cy="300.9" r="0.86" fill="#9044a8" opacity="0.43"/>
<circle cx="89.7" cy="283.9" r="0.58" fill="#9044a8" opacity="0.55"/>
<circle cx="26.5" cy="305.4" r="0.43" fill="#9044a8" opacity="0.30"/>
<circle cx="20.1" cy="340.3" r="0.53" fill="#6a3c9c" opacity="0.42"/>
<circle cx="80.7" cy="292.3" r="0.81" fill="#9044a8" opacity="0.63"/>
<circle cx="69.3" cy="291.2" r="0.53" fill="#9044a8" opacity="0.78"/>
<circle cx="96.6" cy="286.5" r="0.47" fill="#6a3c9c" opacity="0.28"/>
<circle cx="62.5" cy="275.2" r="0.42" fill="#9044a8" opacity="0.74"/>
<circle cx="93.9" cy="277.2" r="0.69" fill="#6a3c9c" opacity="0.32"/>
<circle cx="67.5" cy="316.1" r="0.51" fill="#9044a8" opacity="0.82"/>
<circle cx="12.0" cy="321.0" r="0.45" fill="#9044a8" opacity="0.29"/>
<circle cx="71.4" cy="335.2" r="0.76" fill="#9044a8" opacity="0.29"/>
<circle cx="91.1" cy="282.7" r="0.78" fill="#9044a8" opacity="0.41"/>
<circle cx="5.7" cy="326.1" r="0.66" fill="#9044a8" opacity="0.79"/>
<circle cx="21.3" cy="289.2" r="0.53" fill="#9044a8" opacity="0.82"/>
<circle cx="14.5" cy="298.5" r="0.44" fill="#9044a8" opacity="0.51"/>
<circle cx="71.5" cy="286.4" r="0.47" fill="#6a3c9c" opacity="0.54"/>
<circle cx="50.9" cy="313.5" r="0.86" fill="#9044a8" opacity="0.34"/>
<circle cx="55.6" cy="311.0" r="0.85" fill="#6a3c9c" opacity="0.58"/>
<circle cx="48.1" cy="327.8" r="0.82" fill="#9044a8" opacity="0.43"/>
<circle cx="31.8" cy="298.8" r="0.84" fill="#9044a8" opacity="0.41"/>
<circle cx="70.5" cy="339.5" r="0.46" fill="#9044a8" opacity="0.71"/>
<circle cx="15.9" cy="317.5" r="0.82" fill="#9044a8" opacity="0.60"/>
<circle cx="104.2" cy="300.6" r="0.72" fill="#9044a8" opacity="0.68"/>
<circle cx="46.9" cy="296.9" r="0.45" fill="#6a3c9c" opacity="0.29"/>
<circle cx="47.2" cy="333.6" r="0.43" fill="#9044a8" opacity="0.43"/>
<circle cx="101.3" cy="328.3" r="0.85" fill="#9044a8" opacity="0.55"/>
<circle cx="47.7" cy="289.9" r="0.41" fill="#9044a8" opacity="0.59"/>
<circle cx="16.4" cy="309.3" r="0.87" fill="#9044a8" opacity="0.82"/>
<circle cx="15.9" cy="326.8" r="0.46" fill="#9044a8" opacity="0.57"/>
<circle cx="105.7" cy="311.4" r="0.62" fill="#9044a8" opacity="0.41"/>
<circle cx="104.3" cy="303.6" r="0.50" fill="#6a3c9c" opacity="0.56"/>
<circle cx="44.2" cy="317.6" r="0.86" fill="#6a3c9c" opacity="0.45"/>
<circle cx="59.2" cy="284.0" r="0.43" fill="#9044a8" opacity="0.81"/>
<circle cx="50.5" cy="336.9" r="0.69" fill="#9044a8" opacity="0.55"/>
<circle cx="81.0" cy="291.9" r="0.64" fill="#9044a8" opacity="0.71"/>
<circle cx="19.1" cy="288.3" r="0.75" fill="#9044a8" opacity="0.69"/>
<circle cx="106.7" cy="283.6" r="0.48" fill="#9044a8" opacity="0.30"/>
</g></g>
<path d="M88.3 255.6H105.1" stroke="#000" stroke-width="1.2"/><text x="96.5" y="253.2" text-anchor="middle" style="font-size:6px;font-weight:bold;font-family:'Liberation Serif',serif">100μm</text>
<path d="M88 338.2H106" stroke="#000" stroke-width="1.2"/><text x="96.8" y="337" text-anchor="middle" style="font-size:6px;font-weight:bold;font-family:'Liberation Serif',serif">100μm</text>
<text class="p" x="2.2" y="187.7" style="font-size:15px">E</text>
<text class="p" x="352.3" y="188.7" style="font-size:16.5px">H</text>
<path class="ax" d="M380.5 203V313.5H515"/>
<path class="ax" d="M377.5 203.4H380.5" stroke-width=".8"/>
<text x="375.3" y="206.4" text-anchor="end" style="font-size:8px">35</text>
<path class="ax" d="M377.5 217.3H380.5" stroke-width=".8"/>
<text x="375.3" y="220.3" text-anchor="end" style="font-size:8px">30</text>
<path class="ax" d="M377.5 231.2H380.5" stroke-width=".8"/>
<text x="375.3" y="234.2" text-anchor="end" style="font-size:8px">25</text>
<path class="ax" d="M377.5 245.1H380.5" stroke-width=".8"/>
<text x="375.3" y="248.1" text-anchor="end" style="font-size:8px">20</text>
<path class="ax" d="M377.5 259.0H380.5" stroke-width=".8"/>
<text x="375.3" y="262.0" text-anchor="end" style="font-size:8px">15</text>
<path class="ax" d="M377.5 272.9H380.5" stroke-width=".8"/>
<text x="375.3" y="275.9" text-anchor="end" style="font-size:8px">10</text>
<path class="ax" d="M377.5 286.8H380.5" stroke-width=".8"/>
<text x="375.3" y="289.8" text-anchor="end" style="font-size:8px">5</text>
<path class="ax" d="M377.5 300.7H380.5" stroke-width=".8"/>
<text x="375.3" y="303.7" text-anchor="end" style="font-size:8px">0</text>
<path class="ax" d="M391.5 313.5V315.3" stroke-width=".8"/>
<text transform="translate(393.1 321.3) rotate(-50)" text-anchor="end" style="font-size:7.6px;stroke:#000;stroke-width:.25px">0-10</text>
<path class="ax" d="M401.4 313.5V315.3" stroke-width=".8"/>
<text transform="translate(403.0 321.3) rotate(-50)" text-anchor="end" style="font-size:7.6px;stroke:#000;stroke-width:.25px">11-20</text>
<path class="ax" d="M411.2 313.5V315.3" stroke-width=".8"/>
<text transform="translate(412.9 321.3) rotate(-50)" text-anchor="end" style="font-size:7.6px;stroke:#000;stroke-width:.25px">21-30</text>
<path class="ax" d="M421.1 313.5V315.3" stroke-width=".8"/>
<text transform="translate(422.7 321.3) rotate(-50)" text-anchor="end" style="font-size:7.6px;stroke:#000;stroke-width:.25px">31-40</text>
<path class="ax" d="M431.0 313.5V315.3" stroke-width=".8"/>
<text transform="translate(432.6 321.3) rotate(-50)" text-anchor="end" style="font-size:7.6px;stroke:#000;stroke-width:.25px">41-50</text>
<path class="ax" d="M440.9 313.5V315.3" stroke-width=".8"/>
<text transform="translate(442.5 321.3) rotate(-50)" text-anchor="end" style="font-size:7.6px;stroke:#000;stroke-width:.25px">51-60</text>
<path class="ax" d="M450.8 313.5V315.3" stroke-width=".8"/>
<text transform="translate(452.4 321.3) rotate(-50)" text-anchor="end" style="font-size:7.6px;stroke:#000;stroke-width:.25px">61-70</text>
<path class="ax" d="M460.6 313.5V315.3" stroke-width=".8"/>
<text transform="translate(462.2 321.3) rotate(-50)" text-anchor="end" style="font-size:7.6px;stroke:#000;stroke-width:.25px">71-80</text>
<path class="ax" d="M470.5 313.5V315.3" stroke-width=".8"/>
<text transform="translate(472.1 321.3) rotate(-50)" text-anchor="end" style="font-size:7.6px;stroke:#000;stroke-width:.25px">81-90</text>
<path class="ax" d="M480.4 313.5V315.3" stroke-width=".8"/>
<text transform="translate(482.0 321.3) rotate(-50)" text-anchor="end" style="font-size:7.6px;stroke:#000;stroke-width:.25px">91-100</text>
<path class="ax" d="M490.2 313.5V315.3" stroke-width=".8"/>
<text transform="translate(491.9 321.3) rotate(-50)" text-anchor="end" style="font-size:7.6px;stroke:#000;stroke-width:.25px">101-110</text>
<path class="ax" d="M500.1 313.5V315.3" stroke-width=".8"/>
<text transform="translate(501.7 321.3) rotate(-50)" text-anchor="end" style="font-size:7.6px;stroke:#000;stroke-width:.25px">111-120</text>
<path class="ax" d="M510.0 313.5V315.3" stroke-width=".8"/>
<text transform="translate(511.6 321.3) rotate(-50)" text-anchor="end" style="font-size:7.6px;stroke:#000;stroke-width:.25px">&gt;120</text>
<path class="ax" stroke-width=".9" d="M391.5 300.7L401.4 300.1L411.2 294.6L421.1 275.7L431.0 257.6L440.9 256.2L450.8 261.8L460.6 263.7L470.5 268.7L480.4 279.8L490.2 286.8L500.1 291.8L510.0 293.2"/>
<path class="ax" stroke-width=".8" stroke-dasharray="3 1.3" d="M391.5 299.3L401.4 283.5L411.2 236.8L421.1 216.5L431.0 240.9L440.9 272.1L450.8 286.8L460.6 294.6L470.5 298.5L480.4 299.3L490.2 300.1L500.1 300.4L510.0 300.4"/>
<circle cx="391.5" cy="300.7" r="1.5" fill="#000"/>
<circle cx="401.4" cy="300.1" r="1.5" fill="#000"/>
<circle cx="411.2" cy="294.6" r="1.5" fill="#000"/>
<circle cx="421.1" cy="275.7" r="1.5" fill="#000"/>
<circle cx="431.0" cy="257.6" r="1.5" fill="#000"/>
<circle cx="440.9" cy="256.2" r="1.5" fill="#000"/>
<circle cx="450.8" cy="261.8" r="1.5" fill="#000"/>
<circle cx="460.6" cy="263.7" r="1.5" fill="#000"/>
<circle cx="470.5" cy="268.7" r="1.5" fill="#000"/>
<circle cx="480.4" cy="279.8" r="1.5" fill="#000"/>
<circle cx="490.2" cy="286.8" r="1.5" fill="#000"/>
<circle cx="500.1" cy="291.8" r="1.5" fill="#000"/>
<circle cx="510.0" cy="293.2" r="1.5" fill="#000"/>
<circle cx="391.5" cy="299.3" r="1.3" fill="#fff" stroke="#000" stroke-width=".6"/>
<circle cx="401.4" cy="283.5" r="1.3" fill="#fff" stroke="#000" stroke-width=".6"/>
<circle cx="411.2" cy="236.8" r="1.3" fill="#fff" stroke="#000" stroke-width=".6"/>
<circle cx="421.1" cy="216.5" r="1.3" fill="#fff" stroke="#000" stroke-width=".6"/>
<circle cx="431.0" cy="240.9" r="1.3" fill="#fff" stroke="#000" stroke-width=".6"/>
<circle cx="440.9" cy="272.1" r="1.3" fill="#fff" stroke="#000" stroke-width=".6"/>
<circle cx="450.8" cy="286.8" r="1.3" fill="#fff" stroke="#000" stroke-width=".6"/>
<circle cx="460.6" cy="294.6" r="1.3" fill="#fff" stroke="#000" stroke-width=".6"/>
<circle cx="470.5" cy="298.5" r="1.3" fill="#fff" stroke="#000" stroke-width=".6"/>
<circle cx="480.4" cy="299.3" r="1.3" fill="#fff" stroke="#000" stroke-width=".6"/>
<circle cx="490.2" cy="300.1" r="1.3" fill="#fff" stroke="#000" stroke-width=".6"/>
<circle cx="500.1" cy="300.4" r="1.3" fill="#fff" stroke="#000" stroke-width=".6"/>
<circle cx="510.0" cy="300.4" r="1.3" fill="#fff" stroke="#000" stroke-width=".6"/>
<text transform="translate(359.7 256.8) rotate(-90)" text-anchor="middle" style="font-size:8.9px;font-weight:bold">Distribution percentage (%)</text>
<text class="l" x="445" y="352.2" text-anchor="middle" style="font-size:8.7px;stroke-width:.35px">Diameter (μm)</text>
<path class="ax" d="M449.7 211.6H467" stroke-width=".9"/><circle cx="458.5" cy="211.6" r="1.5"/>
<path class="ax" d="M449.7 223.4H467" stroke-width=".8" stroke-dasharray="3 1.3"/><circle cx="458.5" cy="223.4" r="1.3" fill="#fff" stroke="#000" stroke-width=".6"/>
<text x="472.5" y="214.7" style="font-size:8.4px">HFD</text>
<text x="472.5" y="226.5" style="font-size:8.4px">HFD+Ca<tspan dy="-2.5" style="font-size:5.2px">2+</tspan></text>
</g>
</svg></body></html>
